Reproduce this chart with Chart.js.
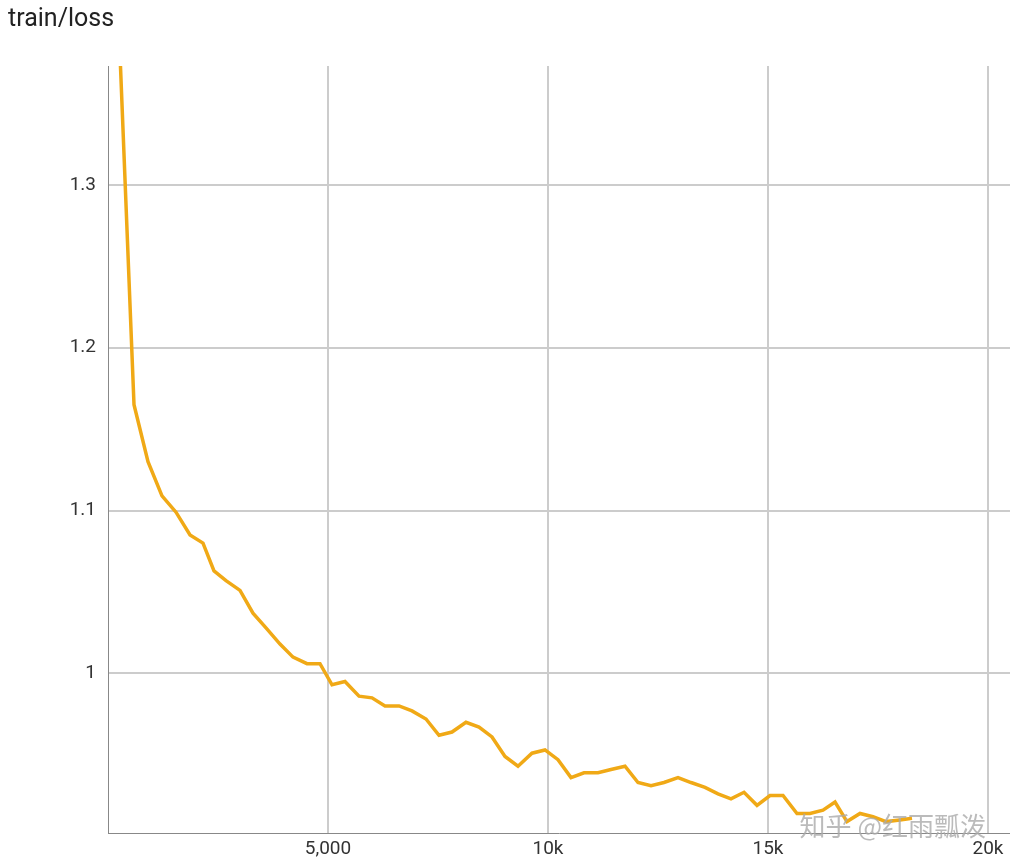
<!DOCTYPE html>
<html>
<head>
<meta charset="utf-8">
<script src="https://cdn.jsdelivr.net/npm/chart.js@4"></script>
<style>
  body { margin: 0; background: #fff; }
  #wrap { position: relative; width: 1010px; height: 868px; }
  #title { position: absolute; left: 8px; top: 3px; font: 25px Roboto, sans-serif; color: #222; }
</style>
</head>
<body>
<div id="wrap">
  <canvas id="myChart" width="1010" height="868"></canvas>
  <div id="title">train/loss</div>
</div>
<script>
'use strict';

// training steps and smoothed loss
let steps = [273, 591, 909, 1227, 1545, 1864, 2159, 2409, 2682, 3000, 3295, 3591, 3909, 4205, 4523, 4818,
  5091, 5386, 5705, 6000, 6295, 6614, 6909, 7227, 7523, 7818, 8136, 8432, 8727, 9023, 9318, 9636, 9932,
  10227, 10523, 10818, 11136, 11432, 11750, 12045, 12341, 12636, 12955, 13250, 13568, 13864, 14159, 14455,
  14750, 15045, 15341, 15659, 15955, 16250, 16523, 16795, 17091, 17386, 17682, 18000, 18273];
let loss = [1.38, 1.165, 1.130, 1.109, 1.099, 1.085, 1.080, 1.063, 1.057, 1.051, 1.037, 1.028, 1.018, 1.010, 1.006, 1.006,
  0.993, 0.995, 0.986, 0.985, 0.980, 0.980, 0.977, 0.972, 0.962, 0.964, 0.970, 0.967, 0.961, 0.949, 0.943, 0.951, 0.953,
  0.947, 0.936, 0.939, 0.939, 0.941, 0.943, 0.933, 0.931, 0.933, 0.936, 0.933, 0.930, 0.926, 0.923, 0.927,
  0.919, 0.925, 0.925, 0.914, 0.914, 0.916, 0.921, 0.909, 0.914, 0.912, 0.909, 0.910, 0.911];

let xTicks = [5000, 10000, 15000, 20000];
let xTickLabels = ['5,000', '10k', '15k', '20k'];
let yTicks = [1, 1.1, 1.2, 1.3];
let yTickLabels = ['1', '1.1', '1.2', '1.3'];

let points = [];
for (let i = 0; i < steps.length; i++) {
  points.push({ x: steps[i], y: loss[i] });
}

// faint watermark in the corner
const watermark = {
  id: 'watermark',
  afterDraw(chart) {
    let ctx = chart.ctx;
    ctx.save();
    ctx.font = '26px "Noto Sans CJK SC", sans-serif';
    ctx.fillStyle = 'rgba(170,170,170,0.8)';
    ctx.textAlign = 'right';
    ctx.textBaseline = 'middle';
    ctx.fillText('知乎 @红雨瓢泼', 986, 826);
    ctx.restore();
  }
};

const config = {
  type: 'line',
  data: {
    datasets: [{
      data: points,
      borderColor: '#f0a916',
      borderWidth: 3.5,
      pointRadius: 0,
      tension: 0
    }]
  },
  options: {
    responsive: false,
    animation: false,
    layout: { padding: { top: 66, right: 0, left: 0, bottom: 0 } },
    plugins: { legend: { display: false }, tooltip: { enabled: false } },
    scales: {
      x: {
        type: 'linear',
        min: 0,
        max: 20500,
        afterBuildTicks: (axis) => { axis.ticks = xTicks.map(v => ({ value: v })); },
        afterFit: (axis) => { axis.height = 35; },
        ticks: {
          color: '#333',
          font: { family: 'Roboto', size: 19 },
          maxRotation: 0,
          padding: 5,
          callback: (v) => xTickLabels[xTicks.indexOf(v)]
        },
        grid: { color: '#cccccc', lineWidth: 2, drawTicks: false },
        border: { color: '#888', width: 1 }
      },
      y: {
        min: 0.902,
        max: 1.373,
        afterBuildTicks: (axis) => { axis.ticks = yTicks.map(v => ({ value: v })); },
        afterFit: (axis) => { axis.width = 108; },
        ticks: {
          color: '#333',
          font: { family: 'Roboto', size: 19 },
          padding: 12,
          callback: (v) => yTickLabels[yTicks.indexOf(v)]
        },
        grid: { color: '#cccccc', lineWidth: 2, drawTicks: false },
        border: { color: '#888', width: 1 }
      }
    }
  },
  plugins: [watermark]
};

const myChart = new Chart(document.getElementById('myChart'), config);
</script>
</body>
</html>
